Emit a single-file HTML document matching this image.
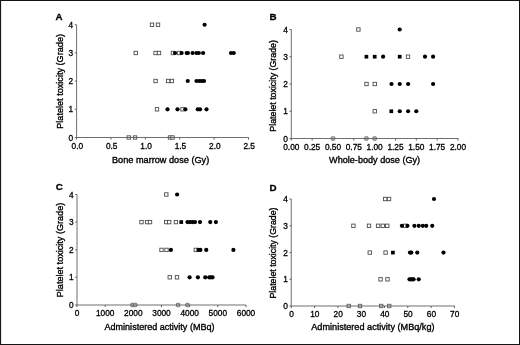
<!DOCTYPE html>
<html lang="en"><head><meta charset="utf-8"><title>Platelet toxicity figure</title>
<style>
html,body{margin:0;padding:0;background:#fff;}
body{width:520px;height:345px;overflow:hidden;position:relative;font-family:"Liberation Sans",Arial,sans-serif;}
svg{position:absolute;left:0;top:0;display:block;}
.tk{font-size:8.3px;fill:#000;stroke:#000;stroke-width:0.3px;}
.lb{font-size:9.2px;fill:#000;stroke:#000;stroke-width:0.35px;}
.ttl{font-size:9.8px;font-weight:bold;fill:#000;stroke:#000;stroke-width:0.3px;}
text{font-family:"Liberation Sans",Arial,sans-serif;}
</style></head><body>
<svg width="520" height="345" viewBox="0 0 520 345">
<rect x="0" y="0" width="520" height="345" fill="#fff"/>
<text x="55.6" y="19.9" class="ttl">A</text>
<path d="M76.6 24.75V137.9" fill="none" stroke="#555" stroke-width="0.85"/>
<path d="M74.8 137.5H76.6" stroke="#555" stroke-width="0.9"/>
<text x="73.20" y="140.50" class="tk" text-anchor="end">0</text>
<path d="M74.8 109.3H76.6" stroke="#555" stroke-width="0.9"/>
<text x="73.20" y="112.30" class="tk" text-anchor="end">1</text>
<path d="M74.8 81.0H76.6" stroke="#555" stroke-width="0.9"/>
<text x="73.20" y="84.00" class="tk" text-anchor="end">2</text>
<path d="M74.8 53.0H76.6" stroke="#555" stroke-width="0.9"/>
<text x="73.20" y="56.00" class="tk" text-anchor="end">3</text>
<path d="M74.8 24.75H76.6" stroke="#555" stroke-width="0.9"/>
<text x="73.20" y="27.75" class="tk" text-anchor="end">4</text>
<path d="M76.60 137.5v2.1" stroke="#555" stroke-width="0.9"/>
<text x="77.30" y="148.60" class="tk" text-anchor="middle">0.0</text>
<path d="M110.98 137.5v2.1" stroke="#555" stroke-width="0.9"/>
<text x="111.68" y="148.60" class="tk" text-anchor="middle">0.5</text>
<path d="M145.36 137.5v2.1" stroke="#555" stroke-width="0.9"/>
<text x="146.06" y="148.60" class="tk" text-anchor="middle">1.0</text>
<path d="M179.74 137.5v2.1" stroke="#555" stroke-width="0.9"/>
<text x="180.44" y="148.60" class="tk" text-anchor="middle">1.5</text>
<path d="M214.12 137.5v2.1" stroke="#555" stroke-width="0.9"/>
<text x="214.82" y="148.60" class="tk" text-anchor="middle">2.0</text>
<path d="M248.50 137.5v2.1" stroke="#555" stroke-width="0.9"/>
<text x="249.20" y="148.60" class="tk" text-anchor="middle">2.5</text>
<text x="111.97" y="162.60" class="lb" textLength="97.25" lengthAdjust="spacingAndGlyphs">Bone marrow dose (Gy)</text>
<text transform="translate(62.80 128.80) rotate(-90)" class="lb" textLength="94.8" lengthAdjust="spacingAndGlyphs">Platelet toxicity (Grade)</text>
<rect x="150.30" y="23.05" width="3.4" height="3.4" fill="#fff" stroke="#4d4d4d" stroke-width="0.9"/>
<rect x="156.30" y="23.05" width="3.4" height="3.4" fill="#fff" stroke="#4d4d4d" stroke-width="0.9"/>
<circle cx="204.60" cy="24.75" r="2.1" fill="#000"/>
<rect x="134.05" y="51.30" width="3.4" height="3.4" fill="#fff" stroke="#4d4d4d" stroke-width="0.9"/>
<rect x="153.90" y="51.30" width="3.4" height="3.4" fill="#fff" stroke="#4d4d4d" stroke-width="0.9"/>
<rect x="157.30" y="51.30" width="3.4" height="3.4" fill="#fff" stroke="#4d4d4d" stroke-width="0.9"/>
<rect x="171.20" y="51.30" width="3.4" height="3.4" fill="#fff" stroke="#4d4d4d" stroke-width="0.9"/>
<rect x="177.30" y="51.30" width="3.4" height="3.4" fill="#fff" stroke="#4d4d4d" stroke-width="0.9"/>
<circle cx="175.00" cy="53.00" r="2.1" fill="#000"/>
<circle cx="181.60" cy="53.00" r="2.1" fill="#000"/>
<circle cx="186.70" cy="53.00" r="2.1" fill="#000"/>
<circle cx="187.90" cy="53.00" r="2.1" fill="#000"/>
<circle cx="192.60" cy="53.00" r="2.1" fill="#000"/>
<circle cx="196.50" cy="53.00" r="2.1" fill="#000"/>
<circle cx="198.80" cy="53.00" r="2.1" fill="#000"/>
<circle cx="203.10" cy="53.00" r="2.1" fill="#000"/>
<circle cx="231.00" cy="53.00" r="2.1" fill="#000"/>
<circle cx="233.75" cy="53.00" r="2.1" fill="#000"/>
<rect x="153.90" y="79.30" width="3.4" height="3.4" fill="#fff" stroke="#4d4d4d" stroke-width="0.9"/>
<rect x="166.40" y="79.30" width="3.4" height="3.4" fill="#fff" stroke="#4d4d4d" stroke-width="0.9"/>
<rect x="170.20" y="79.30" width="3.4" height="3.4" fill="#fff" stroke="#4d4d4d" stroke-width="0.9"/>
<circle cx="187.75" cy="81.00" r="2.1" fill="#000"/>
<circle cx="196.50" cy="81.00" r="2.1" fill="#000"/>
<circle cx="199.40" cy="81.00" r="2.1" fill="#000"/>
<circle cx="201.90" cy="81.00" r="2.1" fill="#000"/>
<circle cx="204.00" cy="81.00" r="2.1" fill="#000"/>
<rect x="155.30" y="107.60" width="3.4" height="3.4" fill="#fff" stroke="#4d4d4d" stroke-width="0.9"/>
<rect x="180.80" y="107.60" width="3.4" height="3.4" fill="#fff" stroke="#4d4d4d" stroke-width="0.9"/>
<circle cx="167.50" cy="109.30" r="2.1" fill="#000"/>
<circle cx="177.50" cy="109.30" r="2.1" fill="#000"/>
<circle cx="185.40" cy="109.30" r="2.1" fill="#000"/>
<circle cx="197.75" cy="109.30" r="2.1" fill="#000"/>
<circle cx="200.00" cy="109.30" r="2.1" fill="#000"/>
<circle cx="206.50" cy="109.30" r="2.1" fill="#000"/>
<rect x="127.05" y="135.80" width="3.4" height="3.4" rx="0" fill="#f4f4f4" stroke="#555" stroke-width="0.9"/>
<rect x="133.30" y="135.80" width="3.4" height="3.4" rx="0" fill="#f4f4f4" stroke="#555" stroke-width="0.9"/>
<rect x="168.30" y="135.80" width="3.4" height="3.4" rx="0" fill="#f4f4f4" stroke="#555" stroke-width="0.9"/>
<rect x="170.80" y="135.80" width="3.4" height="3.4" rx="0" fill="#f4f4f4" stroke="#555" stroke-width="0.9"/>
<path d="M76.6 137.5H248.8" fill="none" stroke="#555" stroke-width="0.85"/>
<text x="269.6" y="20.0" class="ttl">B</text>
<path d="M291.3 29.5V138.9" fill="none" stroke="#555" stroke-width="0.85"/>
<path d="M289.5 138.5H291.3" stroke="#555" stroke-width="0.9"/>
<text x="287.90" y="141.50" class="tk" text-anchor="end">0</text>
<path d="M289.5 111.25H291.3" stroke="#555" stroke-width="0.9"/>
<text x="287.90" y="114.25" class="tk" text-anchor="end">1</text>
<path d="M289.5 84.0H291.3" stroke="#555" stroke-width="0.9"/>
<text x="287.90" y="87.00" class="tk" text-anchor="end">2</text>
<path d="M289.5 56.7H291.3" stroke="#555" stroke-width="0.9"/>
<text x="287.90" y="59.70" class="tk" text-anchor="end">3</text>
<path d="M289.5 29.5H291.3" stroke="#555" stroke-width="0.9"/>
<text x="287.90" y="32.50" class="tk" text-anchor="end">4</text>
<path d="M291.30 138.5v2.1" stroke="#555" stroke-width="0.9"/>
<text x="291.30" y="149.70" class="tk" text-anchor="middle">0.00</text>
<path d="M312.14 138.5v2.1" stroke="#555" stroke-width="0.9"/>
<text x="312.14" y="149.70" class="tk" text-anchor="middle">0.25</text>
<path d="M332.98 138.5v2.1" stroke="#555" stroke-width="0.9"/>
<text x="332.98" y="149.70" class="tk" text-anchor="middle">0.50</text>
<path d="M353.81 138.5v2.1" stroke="#555" stroke-width="0.9"/>
<text x="353.81" y="149.70" class="tk" text-anchor="middle">0.75</text>
<path d="M374.65 138.5v2.1" stroke="#555" stroke-width="0.9"/>
<text x="374.65" y="149.70" class="tk" text-anchor="middle">1.00</text>
<path d="M395.49 138.5v2.1" stroke="#555" stroke-width="0.9"/>
<text x="395.49" y="149.70" class="tk" text-anchor="middle">1.25</text>
<path d="M416.32 138.5v2.1" stroke="#555" stroke-width="0.9"/>
<text x="416.32" y="149.70" class="tk" text-anchor="middle">1.50</text>
<path d="M437.16 138.5v2.1" stroke="#555" stroke-width="0.9"/>
<text x="437.16" y="149.70" class="tk" text-anchor="middle">1.75</text>
<path d="M458.00 138.5v2.1" stroke="#555" stroke-width="0.9"/>
<text x="458.00" y="149.70" class="tk" text-anchor="middle">2.00</text>
<text x="329.10" y="162.80" class="lb" textLength="91" lengthAdjust="spacingAndGlyphs">Whole-body dose (Gy)</text>
<text transform="translate(276.20 131.70) rotate(-90)" class="lb" textLength="91.6" lengthAdjust="spacingAndGlyphs">Platelet toxicity (Grade)</text>
<rect x="356.70" y="27.80" width="3.4" height="3.4" fill="#fff" stroke="#4d4d4d" stroke-width="0.9"/>
<circle cx="399.70" cy="29.50" r="2.1" fill="#000"/>
<rect x="339.70" y="55.00" width="3.4" height="3.4" fill="#fff" stroke="#4d4d4d" stroke-width="0.9"/>
<rect x="406.30" y="55.00" width="3.4" height="3.4" fill="#fff" stroke="#4d4d4d" stroke-width="0.9"/>
<rect x="364.55" y="54.85" width="3.7" height="3.7" fill="#000"/>
<rect x="372.85" y="54.85" width="3.7" height="3.7" fill="#000"/>
<circle cx="383.10" cy="56.70" r="2.1" fill="#000"/>
<rect x="397.85" y="54.85" width="3.7" height="3.7" fill="#000"/>
<circle cx="425.00" cy="56.70" r="2.1" fill="#000"/>
<circle cx="433.10" cy="56.70" r="2.1" fill="#000"/>
<rect x="364.80" y="82.30" width="3.4" height="3.4" fill="#fff" stroke="#4d4d4d" stroke-width="0.9"/>
<rect x="373.05" y="82.30" width="3.4" height="3.4" fill="#fff" stroke="#4d4d4d" stroke-width="0.9"/>
<circle cx="391.50" cy="84.00" r="2.1" fill="#000"/>
<circle cx="399.75" cy="84.00" r="2.1" fill="#000"/>
<circle cx="408.10" cy="84.00" r="2.1" fill="#000"/>
<circle cx="433.10" cy="84.00" r="2.1" fill="#000"/>
<rect x="373.05" y="109.55" width="3.4" height="3.4" fill="#fff" stroke="#4d4d4d" stroke-width="0.9"/>
<rect x="389.45" y="109.40" width="3.7" height="3.7" fill="#000"/>
<circle cx="399.75" cy="111.25" r="2.1" fill="#000"/>
<circle cx="408.10" cy="111.25" r="2.1" fill="#000"/>
<circle cx="416.30" cy="111.25" r="2.1" fill="#000"/>
<rect x="331.30" y="136.80" width="3.4" height="3.4" rx="0.5" fill="#c8c8c8" stroke="#6c6c6c" stroke-width="0.9"/>
<rect x="364.70" y="136.80" width="3.4" height="3.4" rx="0.5" fill="#c8c8c8" stroke="#6c6c6c" stroke-width="0.9"/>
<rect x="372.90" y="136.80" width="3.4" height="3.4" rx="0.5" fill="#c8c8c8" stroke="#6c6c6c" stroke-width="0.9"/>
<path d="M291.3 138.5H458.4" fill="none" stroke="#555" stroke-width="0.85"/>
<text x="55.8" y="190.3" class="ttl">C</text>
<path d="M77.0 194.5V305.4" fill="none" stroke="#555" stroke-width="0.85"/>
<path d="M75.2 305.0H77.0" stroke="#555" stroke-width="0.9"/>
<text x="73.60" y="308.00" class="tk" text-anchor="end">0</text>
<path d="M75.2 277.3H77.0" stroke="#555" stroke-width="0.9"/>
<text x="73.60" y="280.30" class="tk" text-anchor="end">1</text>
<path d="M75.2 249.9H77.0" stroke="#555" stroke-width="0.9"/>
<text x="73.60" y="252.90" class="tk" text-anchor="end">2</text>
<path d="M75.2 222.1H77.0" stroke="#555" stroke-width="0.9"/>
<text x="73.60" y="225.10" class="tk" text-anchor="end">3</text>
<path d="M75.2 194.5H77.0" stroke="#555" stroke-width="0.9"/>
<text x="73.60" y="197.50" class="tk" text-anchor="end">4</text>
<path d="M77.00 305.0v2.1" stroke="#555" stroke-width="0.9"/>
<text x="77.00" y="315.50" class="tk" text-anchor="middle">0</text>
<path d="M105.17 305.0v2.1" stroke="#555" stroke-width="0.9"/>
<text x="105.17" y="315.50" class="tk" text-anchor="middle">1000</text>
<path d="M133.34 305.0v2.1" stroke="#555" stroke-width="0.9"/>
<text x="133.34" y="315.50" class="tk" text-anchor="middle">2000</text>
<path d="M161.51 305.0v2.1" stroke="#555" stroke-width="0.9"/>
<text x="161.51" y="315.50" class="tk" text-anchor="middle">3000</text>
<path d="M189.68 305.0v2.1" stroke="#555" stroke-width="0.9"/>
<text x="189.68" y="315.50" class="tk" text-anchor="middle">4000</text>
<path d="M217.85 305.0v2.1" stroke="#555" stroke-width="0.9"/>
<text x="217.85" y="315.50" class="tk" text-anchor="middle">5000</text>
<path d="M246.02 305.0v2.1" stroke="#555" stroke-width="0.9"/>
<text x="246.02" y="315.50" class="tk" text-anchor="middle">6000</text>
<text x="104.50" y="329.50" class="lb" textLength="110" lengthAdjust="spacingAndGlyphs">Administered activity (MBq)</text>
<text transform="translate(62.70 297.25) rotate(-90)" class="lb" textLength="94.5" lengthAdjust="spacingAndGlyphs">Platelet toxicity (Grade)</text>
<rect x="164.60" y="192.80" width="3.4" height="3.4" fill="#fff" stroke="#4d4d4d" stroke-width="0.9"/>
<circle cx="177.10" cy="194.50" r="2.1" fill="#000"/>
<rect x="139.80" y="220.40" width="3.4" height="3.4" fill="#fff" stroke="#4d4d4d" stroke-width="0.9"/>
<rect x="145.40" y="220.40" width="3.4" height="3.4" fill="#fff" stroke="#4d4d4d" stroke-width="0.9"/>
<rect x="148.30" y="220.40" width="3.4" height="3.4" fill="#fff" stroke="#4d4d4d" stroke-width="0.9"/>
<rect x="164.55" y="220.40" width="3.4" height="3.4" fill="#fff" stroke="#4d4d4d" stroke-width="0.9"/>
<rect x="167.50" y="220.40" width="3.4" height="3.4" fill="#fff" stroke="#4d4d4d" stroke-width="0.9"/>
<rect x="174.20" y="220.40" width="3.4" height="3.4" fill="#fff" stroke="#4d4d4d" stroke-width="0.9"/>
<rect x="179.40" y="220.25" width="3.7" height="3.7" fill="#000"/>
<circle cx="187.50" cy="222.10" r="2.1" fill="#000"/>
<circle cx="190.00" cy="222.10" r="2.1" fill="#000"/>
<circle cx="192.50" cy="222.10" r="2.1" fill="#000"/>
<circle cx="195.00" cy="222.10" r="2.1" fill="#000"/>
<circle cx="200.00" cy="222.10" r="2.1" fill="#000"/>
<circle cx="210.25" cy="222.10" r="2.1" fill="#000"/>
<circle cx="215.90" cy="222.10" r="2.1" fill="#000"/>
<rect x="159.80" y="248.20" width="3.4" height="3.4" fill="#fff" stroke="#4d4d4d" stroke-width="0.9"/>
<rect x="164.80" y="248.20" width="3.4" height="3.4" fill="#fff" stroke="#4d4d4d" stroke-width="0.9"/>
<rect x="194.10" y="248.20" width="3.4" height="3.4" fill="#fff" stroke="#4d4d4d" stroke-width="0.9"/>
<circle cx="170.90" cy="249.90" r="2.1" fill="#000"/>
<circle cx="198.40" cy="249.90" r="2.1" fill="#000"/>
<circle cx="200.40" cy="249.90" r="2.1" fill="#000"/>
<circle cx="206.25" cy="249.90" r="2.1" fill="#000"/>
<circle cx="233.40" cy="249.90" r="2.1" fill="#000"/>
<rect x="168.05" y="275.60" width="3.4" height="3.4" fill="#fff" stroke="#4d4d4d" stroke-width="0.9"/>
<rect x="175.30" y="275.60" width="3.4" height="3.4" fill="#fff" stroke="#4d4d4d" stroke-width="0.9"/>
<circle cx="189.60" cy="277.30" r="2.1" fill="#000"/>
<circle cx="197.90" cy="277.30" r="2.1" fill="#000"/>
<circle cx="205.25" cy="277.30" r="2.1" fill="#000"/>
<circle cx="209.20" cy="277.30" r="2.1" fill="#000"/>
<circle cx="210.80" cy="277.30" r="2.1" fill="#000"/>
<circle cx="212.50" cy="277.30" r="2.1" fill="#000"/>
<rect x="130.80" y="303.30" width="3.4" height="3.4" rx="0.5" fill="#c8c8c8" stroke="#6c6c6c" stroke-width="0.9"/>
<rect x="133.55" y="303.30" width="3.4" height="3.4" rx="0.5" fill="#c8c8c8" stroke="#6c6c6c" stroke-width="0.9"/>
<rect x="176.40" y="303.30" width="3.4" height="3.4" rx="0.5" fill="#c8c8c8" stroke="#6c6c6c" stroke-width="0.9"/>
<rect x="185.80" y="303.30" width="3.4" height="3.4" rx="0.5" fill="#c8c8c8" stroke="#6c6c6c" stroke-width="0.9"/>
<path d="M77.0 305.0H246.2" fill="none" stroke="#555" stroke-width="0.85"/>
<text x="269.6" y="190.8" class="ttl">D</text>
<path d="M291.25 199.0V306.4" fill="none" stroke="#555" stroke-width="0.85"/>
<path d="M289.45 306.0H291.25" stroke="#555" stroke-width="0.9"/>
<text x="287.85" y="309.00" class="tk" text-anchor="end">0</text>
<path d="M289.45 279.3H291.25" stroke="#555" stroke-width="0.9"/>
<text x="287.85" y="282.30" class="tk" text-anchor="end">1</text>
<path d="M289.45 252.6H291.25" stroke="#555" stroke-width="0.9"/>
<text x="287.85" y="255.60" class="tk" text-anchor="end">2</text>
<path d="M289.45 225.8H291.25" stroke="#555" stroke-width="0.9"/>
<text x="287.85" y="228.80" class="tk" text-anchor="end">3</text>
<path d="M289.45 199.0H291.25" stroke="#555" stroke-width="0.9"/>
<text x="287.85" y="202.00" class="tk" text-anchor="end">4</text>
<path d="M291.25 306.0v2.1" stroke="#555" stroke-width="0.9"/>
<text x="291.55" y="316.75" class="tk" text-anchor="middle">0</text>
<path d="M314.56 306.0v2.1" stroke="#555" stroke-width="0.9"/>
<text x="314.86" y="316.75" class="tk" text-anchor="middle">10</text>
<path d="M337.87 306.0v2.1" stroke="#555" stroke-width="0.9"/>
<text x="338.17" y="316.75" class="tk" text-anchor="middle">20</text>
<path d="M361.18 306.0v2.1" stroke="#555" stroke-width="0.9"/>
<text x="361.48" y="316.75" class="tk" text-anchor="middle">30</text>
<path d="M384.49 306.0v2.1" stroke="#555" stroke-width="0.9"/>
<text x="384.79" y="316.75" class="tk" text-anchor="middle">40</text>
<path d="M407.80 306.0v2.1" stroke="#555" stroke-width="0.9"/>
<text x="408.10" y="316.75" class="tk" text-anchor="middle">50</text>
<path d="M431.11 306.0v2.1" stroke="#555" stroke-width="0.9"/>
<text x="431.41" y="316.75" class="tk" text-anchor="middle">60</text>
<path d="M454.42 306.0v2.1" stroke="#555" stroke-width="0.9"/>
<text x="454.72" y="316.75" class="tk" text-anchor="middle">70</text>
<text x="311.27" y="329.90" class="lb" textLength="123.25" lengthAdjust="spacingAndGlyphs">Administered activity (MBq/kg)</text>
<text transform="translate(276.00 298.50) rotate(-90)" class="lb" textLength="91" lengthAdjust="spacingAndGlyphs">Platelet toxicity (Grade)</text>
<rect x="383.55" y="197.30" width="3.4" height="3.4" fill="#fff" stroke="#4d4d4d" stroke-width="0.9"/>
<rect x="387.30" y="197.30" width="3.4" height="3.4" fill="#fff" stroke="#4d4d4d" stroke-width="0.9"/>
<circle cx="434.00" cy="199.00" r="2.1" fill="#000"/>
<rect x="351.70" y="224.10" width="3.4" height="3.4" fill="#fff" stroke="#4d4d4d" stroke-width="0.9"/>
<rect x="367.30" y="224.10" width="3.4" height="3.4" fill="#fff" stroke="#4d4d4d" stroke-width="0.9"/>
<rect x="376.40" y="224.10" width="3.4" height="3.4" fill="#fff" stroke="#4d4d4d" stroke-width="0.9"/>
<rect x="381.05" y="224.10" width="3.4" height="3.4" fill="#fff" stroke="#4d4d4d" stroke-width="0.9"/>
<rect x="385.55" y="224.10" width="3.4" height="3.4" fill="#fff" stroke="#4d4d4d" stroke-width="0.9"/>
<rect x="403.50" y="224.10" width="3.4" height="3.4" fill="#fff" stroke="#4d4d4d" stroke-width="0.9"/>
<circle cx="401.90" cy="225.80" r="2.1" fill="#000"/>
<circle cx="407.40" cy="225.80" r="2.1" fill="#000"/>
<circle cx="414.40" cy="225.80" r="2.1" fill="#000"/>
<circle cx="418.75" cy="225.80" r="2.1" fill="#000"/>
<circle cx="422.80" cy="225.80" r="2.1" fill="#000"/>
<circle cx="426.25" cy="225.80" r="2.1" fill="#000"/>
<circle cx="432.25" cy="225.80" r="2.1" fill="#000"/>
<rect x="368.05" y="250.90" width="3.4" height="3.4" fill="#fff" stroke="#4d4d4d" stroke-width="0.9"/>
<rect x="383.90" y="250.90" width="3.4" height="3.4" fill="#fff" stroke="#4d4d4d" stroke-width="0.9"/>
<rect x="391.05" y="250.75" width="3.7" height="3.7" fill="#000"/>
<circle cx="410.00" cy="252.60" r="2.1" fill="#000"/>
<circle cx="411.30" cy="252.60" r="2.1" fill="#000"/>
<circle cx="417.25" cy="252.60" r="2.1" fill="#000"/>
<circle cx="443.50" cy="252.60" r="2.1" fill="#000"/>
<rect x="378.90" y="277.60" width="3.4" height="3.4" fill="#fff" stroke="#4d4d4d" stroke-width="0.9"/>
<rect x="385.80" y="277.60" width="3.4" height="3.4" fill="#fff" stroke="#4d4d4d" stroke-width="0.9"/>
<circle cx="409.50" cy="279.30" r="2.1" fill="#000"/>
<circle cx="411.00" cy="279.30" r="2.1" fill="#000"/>
<circle cx="412.30" cy="279.30" r="2.1" fill="#000"/>
<circle cx="413.60" cy="279.30" r="2.1" fill="#000"/>
<circle cx="418.75" cy="279.30" r="2.1" fill="#000"/>
<rect x="347.05" y="304.30" width="3.4" height="3.4" rx="0" fill="#dcdcdc" stroke="#666" stroke-width="0.9"/>
<rect x="358.30" y="304.30" width="3.4" height="3.4" rx="0" fill="#dcdcdc" stroke="#666" stroke-width="0.9"/>
<rect x="379.55" y="304.30" width="3.4" height="3.4" rx="0" fill="#dcdcdc" stroke="#666" stroke-width="0.9"/>
<rect x="387.55" y="304.30" width="3.4" height="3.4" rx="0" fill="#dcdcdc" stroke="#666" stroke-width="0.9"/>
<path d="M291.25 306.0H454.8" fill="none" stroke="#555" stroke-width="0.85"/>
<path d="M0 0.5H520" stroke="#151515" stroke-width="1"/>
<path d="M0.55 0V345" stroke="#151515" stroke-width="1.1"/>
<path d="M519.5 0V345" stroke="#151515" stroke-width="1"/>
<path d="M0 344.5H520" stroke="#151515" stroke-width="1"/>
</svg>
</body></html>
